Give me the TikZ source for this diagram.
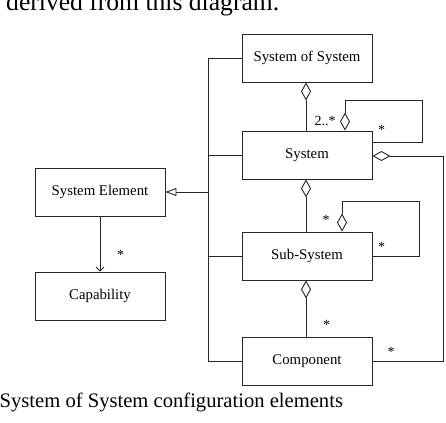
\documentclass[tikz,border=0pt]{standalone}
\usepackage{fontspec}
\setmainfont{Liberation Serif}
\usetikzlibrary{arrows.meta}
\begin{document}
\begin{tikzpicture}[x=1pt,y=-1pt,
  box/.style={draw=black!85,line width=0.9pt,minimum width=130pt,minimum height=48pt,inner sep=0pt,font=\fontsize{14.8}{16}\selectfont},
  conn/.style={draw=black!85,line width=0.9pt},
  dia/.style={conn,{Diamond[open,length=18pt,width=10pt,line width=0.9pt]}-},
  mult/.style={inner sep=0pt,font=\fontsize{14}{16}\selectfont}]
\useasboundingbox (0,0) rectangle (446,422);
\node[anchor=base west,inner sep=0pt,font=\fontsize{25.6}{28}\selectfont] (top) at (6,11) {derived from this diagram.};
\node[anchor=base west,inner sep=0pt,font=\fontsize{20.6}{22}\selectfont] (cap) at (-0.5,407) {System of System configuration elements};

\node[box] (sos) at (307,58) {System of System};
\node[box] (sys) at (307,155) {System};
\node[box] (sub) at (307,256) {Sub-System};
\node[box] (comp) at (307,361) {Component};
\node[box] (se) at (100,192) {System Element};
\node[box] (capa) at (100,296) {Capability};

% left bus
\draw[conn] (sos.west) -- ++(-33,0) coordinate (bt) |- (comp.west);
\draw[conn] (sys.west) -- (sys.west -| bt);
\draw[conn] (sub.west) -- (sub.west -| bt);
\coordinate (j) at (bt |- se.east);
\draw[conn,-{Triangle[open,length=11pt,width=8pt,line width=0.9pt]}] (j) -- (se.east);

% aggregations
\draw[dia] ([xshift=-1pt]sos.south) -- ([xshift=-1pt]sys.north);
\draw[dia] ([xshift=-1pt]sys.south) -- ([xshift=-1pt]sub.north);
\draw[dia] ([xshift=-1pt]sub.south) -- ([xshift=-1pt]comp.north);

% System self loop
\draw[dia] ([xshift=38pt]sys.north) -- ++(0,-30) -| ([xshift=50pt,yshift=13pt]sys.east) -- ([yshift=13pt]sys.east);
% System to Component
\draw[dia] ([yshift=-1pt]sys.east) -- ++(71,0) |- (comp.east);
% Sub-System self loop
\draw[dia] ([xshift=35pt]sub.north) -- ++(0,-30.5) -| ([xshift=47pt]sub.east) -- (sub.east);

% System Element -> Capability
\draw[conn,-{Straight Barb[length=4pt,width=8pt,line width=0.9pt]}] (se.south) -- (capa.north);

% multiplicities
\node[mult] (m1) at (325,120.5) {2..*};
\node[mult] (m2) at (381.7,130) {*};
\node[mult] (m3) at (326,220) {*};
\node[mult] (m4) at (381.7,247) {*};
\node[mult] (m5) at (326.7,324.7) {*};
\node[mult] (m6) at (391,352) {*};
\node[mult] (m7) at (120.7,255.3) {*};
\end{tikzpicture}
\end{document}
